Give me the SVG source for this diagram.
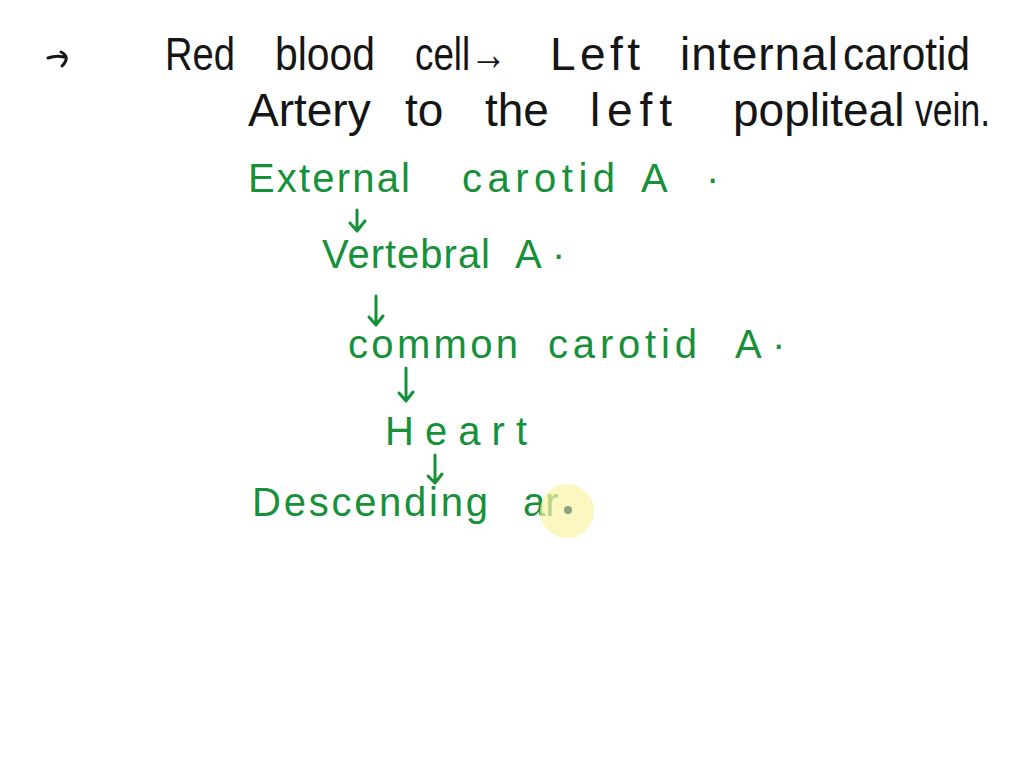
<svg xmlns="http://www.w3.org/2000/svg" width="1024" height="768" viewBox="0 0 1024 768">
<style>
.k{font-family:"Liberation Sans",Arial,sans-serif;font-size:46px;fill:#151515}
.g{font-family:"Liberation Sans",Arial,sans-serif;font-size:40px;fill:#17903a}
.ar{fill:none;stroke:#17903a;stroke-width:3;stroke-linecap:round;stroke-linejoin:round}
.bk{fill:none;stroke:#151515;stroke-width:3;stroke-linecap:round;stroke-linejoin:round}
</style>
<rect width="1024" height="768" fill="#ffffff"/>
<g id="heading">
<path class="bk" d="M48,58 Q56,55 64,57 M61,52 Q71,57 62,66"/>
<text class="k" x="165" y="70" textLength="70" lengthAdjust="spacingAndGlyphs">Red</text>
<text class="k" x="275" y="70" textLength="100" lengthAdjust="spacingAndGlyphs">blood</text>
<text class="k" x="415" y="70" textLength="92" lengthAdjust="spacingAndGlyphs">cell→</text>
<text class="k" x="550" y="70" textLength="90" lengthAdjust="spacing">Left</text>
<text class="k" x="680" y="70" textLength="158" lengthAdjust="spacing">internal</text>
<text class="k" x="843" y="70" textLength="127" lengthAdjust="spacingAndGlyphs">carotid</text>
<text class="k" x="248" y="126">Artery</text>
<text class="k" x="405" y="126">to</text>
<text class="k" x="485" y="126">the</text>
<text class="k" x="590" y="126" textLength="82" lengthAdjust="spacing">left</text>
<text class="k" x="733" y="126">popliteal</text>
<text class="k" x="915" y="126" font-size="38" textLength="75" lengthAdjust="spacingAndGlyphs">vein.</text>
</g>
<g id="external-carotid">
<text class="g" x="248" y="192" textLength="162" lengthAdjust="spacing">External</text>
<text class="g" x="462" y="192" textLength="153" lengthAdjust="spacing">carotid</text>
<text class="g" x="641 706" y="192" font-size="44">A·</text>
</g>
<g id="vertebral">
<text class="g" x="515 552" y="268">A·</text>
<text class="g" x="322" y="268" textLength="168" lengthAdjust="spacing">Vertebral</text>
</g>
<g id="common-carotid">
<text class="g" x="348" y="358" textLength="170" lengthAdjust="spacing">common</text>
<text class="g" x="548" y="358" textLength="149" lengthAdjust="spacing">carotid</text>
<text class="g" x="735 772" y="358">A·</text>
</g>
<g id="heart">
<text class="g" x="385" y="445" font-size="42" textLength="142" lengthAdjust="spacing">Heart</text>
</g>
<g id="descending">
<text class="g" x="252" y="516" textLength="236" lengthAdjust="spacing">Descending</text>
<text class="g" x="523" y="516">ar</text>
</g>
<g id="connectors">
<path class="ar" d="M357,210 L357,230 M350,223 L357,231 L365,221"/>
<path class="ar" d="M376,296 L376,324 M369,317 L376,325 L383,316"/>
<path class="ar" d="M406,368 L406,400 M399,393 L406,401 L413,392"/>
<path class="ar" d="M435,455 L435,482 M428,476 L435,483 L442,474"/>
</g>
<g id="cursor">
<circle cx="567" cy="511" r="27" fill="#fbf3a6" fill-opacity="0.7"/>
<circle cx="568" cy="510" r="4" fill="#8da27a"/>
</g>
</svg>
